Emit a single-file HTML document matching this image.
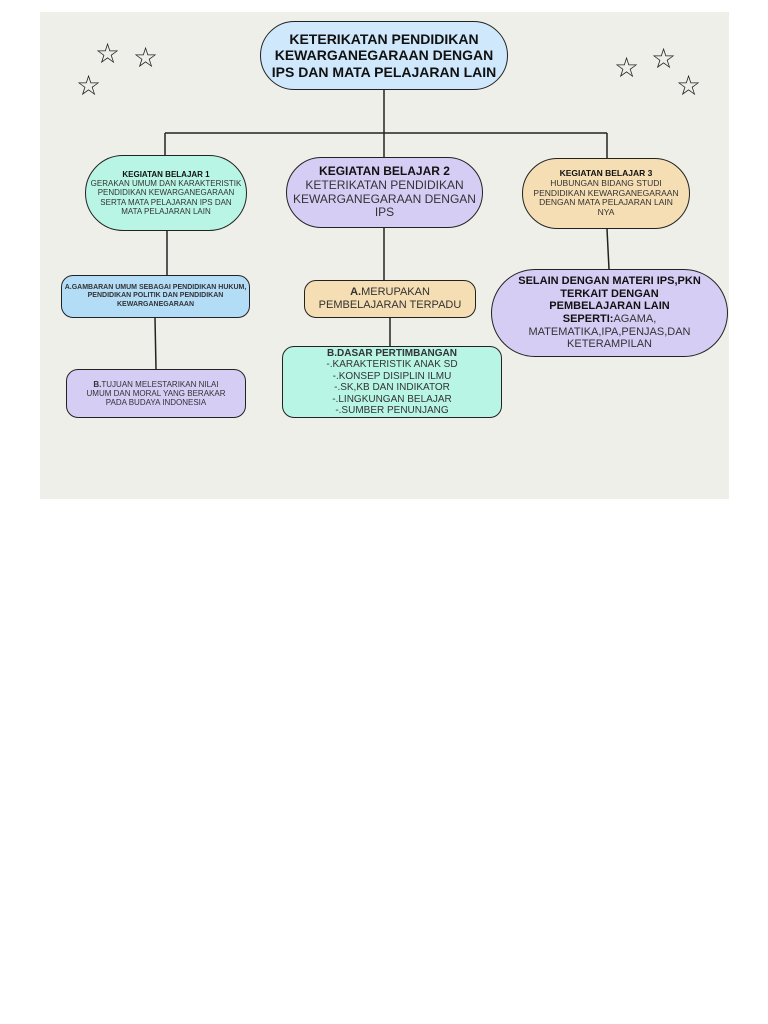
<!DOCTYPE html>
<html><head><meta charset="utf-8"><style>
body{margin:0;width:768px;height:1024px;background:#fff;position:relative;font-family:"Liberation Sans",sans-serif;}
.bg{position:absolute;left:40px;top:12px;width:689px;height:487px;background:#efefea;}
.b{position:absolute;box-sizing:border-box;border:1.8px solid #222;display:flex;align-items:center;justify-content:center;text-align:center;color:#333;line-height:1.15;}
.s{position:absolute;font-size:28px;color:#222;line-height:1;}
svg{position:absolute;left:0;top:0;}
</style></head><body>
<div class="bg"></div>
<svg width="768" height="1024"><g stroke="#222" stroke-width="1.5" fill="none">
<line x1="384" y1="90" x2="384" y2="133"/><line x1="165" y1="133" x2="607" y2="133"/>
<line x1="165" y1="133" x2="165" y2="156"/><line x1="384" y1="133" x2="384" y2="158"/><line x1="607" y1="133" x2="607" y2="159"/>
<line x1="167" y1="231" x2="167" y2="275"/><line x1="155" y1="318" x2="156" y2="369"/>
<line x1="384" y1="228" x2="384" y2="280"/><line x1="390" y1="318" x2="390" y2="346"/>
<line x1="607" y1="229" x2="609" y2="269"/></g></svg>
<div class="s" style="left:95px;top:40px">☆</div><div class="s" style="left:133px;top:44px">☆</div><div class="s" style="left:76px;top:72px">☆</div>
<div class="s" style="left:614px;top:54px">☆</div><div class="s" style="left:651px;top:45px">☆</div><div class="s" style="left:676px;top:72px">☆</div>
<div class="b" style="left:260px;top:21px;width:248px;height:69px;border-radius:35px;background:#cfe8fb;font-weight:bold;font-size:14px;color:#111;white-space:nowrap;"><div>KETERIKATAN PENDIDIKAN<br>KEWARGANEGARAAN DENGAN<br>IPS DAN MATA PELAJARAN LAIN</div></div>
<div class="b" style="left:85px;top:155px;width:162px;height:76px;border-radius:38px;background:#b8f5e4;font-size:8px;padding:0 4px;"><div><b style="color:#111">KEGIATAN BELAJAR 1</b><br>GERAKAN UMUM DAN KARAKTERISTIK PENDIDIKAN KEWARGANEGARAAN SERTA MATA PELAJARAN IPS DAN MATA PELAJARAN LAIN</div></div>
<div class="b" style="left:286px;top:157px;width:197px;height:71px;border-radius:36px;background:#d6cdf5;font-size:12px;"><div><b style="color:#111">KEGIATAN BELAJAR 2</b><br>KETERIKATAN PENDIDIKAN KEWARGANEGARAAN DENGAN IPS</div></div>
<div class="b" style="left:522px;top:158px;width:168px;height:71px;border-radius:36px;background:#f5deb3;font-size:8.5px;white-space:nowrap;"><div><b style="color:#111">KEGIATAN BELAJAR 3</b><br>HUBUNGAN BIDANG STUDI<br>PENDIDIKAN KEWARGANEGARAAN<br>DENGAN MATA PELAJARAN LAIN<br>NYA</div></div>
<div class="b" style="left:61px;top:275px;width:189px;height:43px;border-radius:12px;background:#b3dcf7;font-size:7px;font-weight:bold;">A.GAMBARAN UMUM SEBAGAI PENDIDIKAN HUKUM, PENDIDIKAN POLITIK DAN PENDIDIKAN KEWARGANEGARAAN</div>
<div class="b" style="left:66px;top:369px;width:180px;height:49px;border-radius:12px;background:#d6cdf5;font-size:8px;padding:0 18px;"><div><b>B.</b>TUJUAN MELESTARIKAN NILAI UMUM DAN MORAL YANG BERAKAR PADA BUDAYA INDONESIA</div></div>
<div class="b" style="left:304px;top:280px;width:172px;height:38px;border-radius:12px;background:#f5deb3;font-size:11px;"><div><b>A.</b>MERUPAKAN PEMBELAJARAN TERPADU</div></div>
<div class="b" style="left:282px;top:346px;width:220px;height:72px;border-radius:12px;background:#b8f5e4;font-size:10px;"><div><b>B.DASAR PERTIMBANGAN</b><br>-.KARAKTERISTIK ANAK SD<br>-.KONSEP DISIPLIN ILMU<br>-.SK,KB DAN INDIKATOR<br>-.LINGKUNGAN BELAJAR<br>-.SUMBER PENUNJANG</div></div>
<div class="b" style="left:491px;top:269px;width:237px;height:88px;border-radius:44px;background:#d6cdf5;font-size:11px;padding:0 22px;"><div><b style="color:#111">SELAIN DENGAN MATERI IPS,PKN TERKAIT DENGAN PEMBELAJARAN LAIN SEPERTI:</b>AGAMA, MATEMATIKA,IPA,PENJAS,DAN KETERAMPILAN</div></div>
</body></html>
